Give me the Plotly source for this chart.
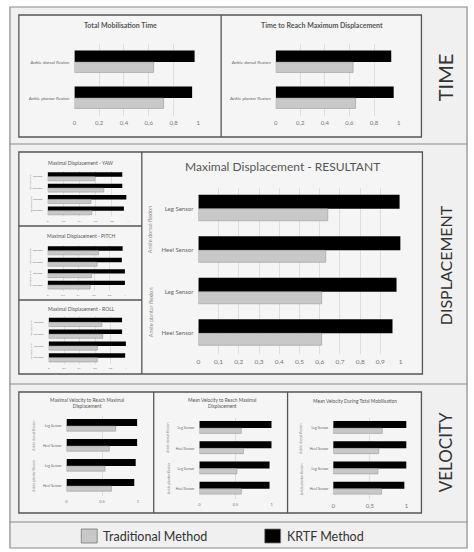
import plotly.graph_objects as go

W, H = 474, 552

# ---- data ----
series_names = ["Traditional Method", "KRTF Method"]
movement_labels = ["Ankle dorsal flexion", "Ankle plantar flexion"]
sensor_labels = ["Leg Sensor", "Heel Sensor", "Leg Sensor", "Heel Sensor"]

total_mob_trad = [0.64, 0.72]
total_mob_krtf = [0.97, 0.95]
time_max_trad = [0.63, 0.65]
time_max_krtf = [0.94, 0.96]

yaw_trad = [0.59, 0.70, 0.54, 0.55]
yaw_krtf = [0.93, 0.93, 0.98, 0.95]
pitch_trad = [0.66, 0.64, 0.57, 0.55]
pitch_krtf = [0.97, 0.96, 1.0, 1.0]
roll_trad = [0.69, 0.70, 0.63, 0.63]
roll_krtf = [0.95, 0.95, 1.0, 0.99]
resultant_trad = [0.64, 0.63, 0.61, 0.61]
resultant_krtf = [0.995, 1.0, 0.98, 0.96]

maxvel_trad = [0.69, 0.60, 0.54, 0.63]
maxvel_krtf = [0.99, 0.99, 0.97, 0.95]
meanvel_max_trad = [0.58, 0.61, 0.52, 0.58]
meanvel_max_krtf = [1.0, 1.0, 0.97, 0.97]
meanvel_total_trad = [0.67, 0.62, 0.61, 0.66]
meanvel_total_krtf = [1.0, 1.0, 1.0, 0.97]

section_titles = ["TIME", "DISPLACEMENT", "VELOCITY"]

FONT = "Lato"
TRAD_COLOR = "#c8c8c8"
KRTF_COLOR = "#000000"


def fx(px):
    return px / W


def fy(py):
    return 1 - py / H


fig = go.Figure()
annotations = []
shapes = []


def label(text, x, y, size, color, yref="paper", angle=0, xanchor="center"):
    annotations.append(dict(text=text, x=x, y=y, xref="paper", yref=yref,
                            xanchor=xanchor, yanchor="middle", textangle=angle,
                            showarrow=False, font=dict(size=size, color=color, family=FONT)))


def add_chart(n, box, cats, trad, krtf, dtick, tick_size, cat_size, thick,
              title, title_pos, title_size, groups=None, group_x=None, group_size=4):
    x0, x1, y0, y1 = box
    xa = "x" if n == 1 else "x%d" % n
    ya = "y" if n == 1 else "y%d" % n
    pos = list(range(len(cats)))
    kt, tt = thick
    fig.add_trace(go.Bar(y=pos, x=krtf, orientation="h", xaxis=xa, yaxis=ya,
                         offset=-kt, width=kt, marker=dict(color=KRTF_COLOR, line=dict(width=0)),
                         name=series_names[1], showlegend=False))
    fig.add_trace(go.Bar(y=pos, x=trad, orientation="h", xaxis=xa, yaxis=ya,
                         offset=0, width=tt,
                         marker=dict(color=TRAD_COLOR, line=dict(color="#8c8c8c", width=0.5)),
                         name=series_names[0], showlegend=False))
    key = "" if n == 1 else str(n)
    fig.update_layout(**{
        "xaxis" + key: dict(domain=[fx(x0), fx(x1)], range=[0, 1.0001], dtick=dtick, anchor=ya,
                            showgrid=True, gridcolor="#dedede", gridwidth=1, zeroline=False,
                            showline=False, ticks="", ticklabelstandoff=2,
                            tickfont=dict(size=tick_size, color="#777777", family=FONT),
                            fixedrange=True),
        "yaxis" + key: dict(domain=[fy(y1), fy(y0)], range=[len(cats) - 0.5, -0.5], anchor=xa,
                            tickvals=pos, ticktext=cats, showgrid=False, zeroline=False,
                            showline=False, ticks="", ticklabelstandoff=4,
                            tickfont=dict(size=cat_size, color="#666666", family=FONT),
                            fixedrange=True),
    })
    label(title, fx(title_pos[0]), fy(title_pos[1]), title_size, "#555555")
    if groups:
        for i, g in enumerate(groups):
            label(g, fx(group_x), 2 * i + 0.5, group_size, "#888888", yref=ya, angle=-90)


# ---- time ----
add_chart(1, (73, 198, 44, 116), movement_labels, total_mob_trad, total_mob_krtf, 0.2, 6, 4.5,
          (0.32, 0.29), "<b>Total Mobilisation Time</b>", (120, 25), 7)
add_chart(2, (276, 400, 44, 116), movement_labels, time_max_trad, time_max_krtf, 0.2, 6, 4.5,
          (0.32, 0.29), "<b>Time to Reach Maximum Displacement</b>", (323, 25), 7)

# ---- displacement ----
add_chart(3, (46, 127, 171, 216.4), sensor_labels, yaw_trad, yaw_krtf, 0.2, 2.5, 2,
          (0.38, 0.36), "Maximal Displacement - YAW", (80, 163), 5,
          movement_labels, 29, 1.8)
add_chart(4, (46, 124, 245, 290.7), sensor_labels, pitch_trad, pitch_krtf, 0.2, 2.5, 2,
          (0.38, 0.36), "Maximal Displacement - PITCH", (80, 236), 5,
          movement_labels, 29, 1.8)
add_chart(5, (47, 125, 316.4, 363.6), sensor_labels, roll_trad, roll_krtf, 0.2, 2.5, 2,
          (0.38, 0.36), "Maximal Displacement - ROLL", (80, 309), 5,
          movement_labels, 29, 1.8)
add_chart(6, (198, 402, 188, 354), sensor_labels, resultant_trad, resultant_krtf, 0.1, 6.5, 6,
          (0.34, 0.29), "Maximal Displacement - RESULTANT", (283, 166), 12,
          movement_labels, 150, 5.5)

# ---- velocity ----
add_chart(7, (65, 137, 416, 496), sensor_labels, maxvel_trad, maxvel_krtf, 0.5, 4, 3.5,
          (0.35, 0.26), "Maximal Velocity to Reach Maximal<br>Displacement", (86, 403), 4.8,
          movement_labels, 32, 3.5)
add_chart(8, (199, 272, 418, 499), sensor_labels, meanvel_max_trad, meanvel_max_krtf, 0.5, 4, 3.5,
          (0.35, 0.26), "Mean Velocity to Reach Maximal<br>Displacement", (222, 403), 4.8,
          movement_labels, 168, 3.5)
add_chart(9, (334, 408, 418, 499), sensor_labels, meanvel_total_trad, meanvel_total_krtf, 0.5, 6, 3.5,
          (0.35, 0.26), "Mean Velocity During Total Mobilisation", (356, 401), 4.8,
          movement_labels, 302, 3.5)

# ---- frames ----
def rect(x0, y0, x1, y1, color, width, fill=None):
    shapes.append(dict(type="rect", xref="paper", yref="paper", layer="below",
                       x0=fx(x0), x1=fx(x1), y0=fy(y1), y1=fy(y0),
                       line=dict(color=color, width=width),
                       fillcolor=fill if fill else "rgba(0,0,0,0)"))


def line(x0, y0, x1, y1, color, width):
    shapes.append(dict(type="line", xref="paper", yref="paper", x0=fx(x0), x1=fx(x1),
                       y0=fy(y0), y1=fy(y1), line=dict(color=color, width=width)))


rect(8, 7, 469, 548, "#8a8a8a", 1.2, "#f0f0f0")
for y in [144, 384, 522]:
    line(8, y, 469, y, "#8a8a8a", 1.2)

panel_color = "#555555"
rect(17, 15, 423, 137, panel_color, 1.3, "#f5f5f5")
line(221, 15, 221, 137, panel_color, 1.3)
rect(17, 152, 424, 374, panel_color, 1.3, "#f5f5f5")
line(141, 152, 141, 374, panel_color, 1.3)
for y in [226, 300]:
    line(17, y, 141, y, panel_color, 1.3)
rect(17, 392, 423, 513, panel_color, 1.3, "#f5f5f5")
for x in [153, 288]:
    line(x, 392, x, 513, panel_color, 1.3)

# section titles
for title, yc, size in zip(section_titles, [77, 265, 452], [20, 16, 17]):
    label(title, fx(447), fy(yc), size, "#333333", angle=-90)

# legend
legend_boxes = [(80, TRAD_COLOR, 12.5), (265, KRTF_COLOR, 12.5)]
for (lx, col, size), name in zip(legend_boxes, series_names):
    rect(lx, 529, lx + 16, 543, "#777777", 0.8, col)
    label(name, fx(lx + 20), fy(536), size, "#333333", xanchor="left")

fig.update_layout(
    width=W, height=H,
    margin=dict(l=0, r=0, t=0, b=0),
    paper_bgcolor="#ffffff",
    plot_bgcolor="rgba(0,0,0,0)",
    barmode="overlay",
    separators=", ",
    showlegend=False,
    annotations=annotations,
    shapes=shapes,
    font=dict(family=FONT),
)

fig.write_html("out.html", config={"displayModeBar": False},
               post_script="document.body.style.margin='0';document.body.style.overflow='hidden';")
